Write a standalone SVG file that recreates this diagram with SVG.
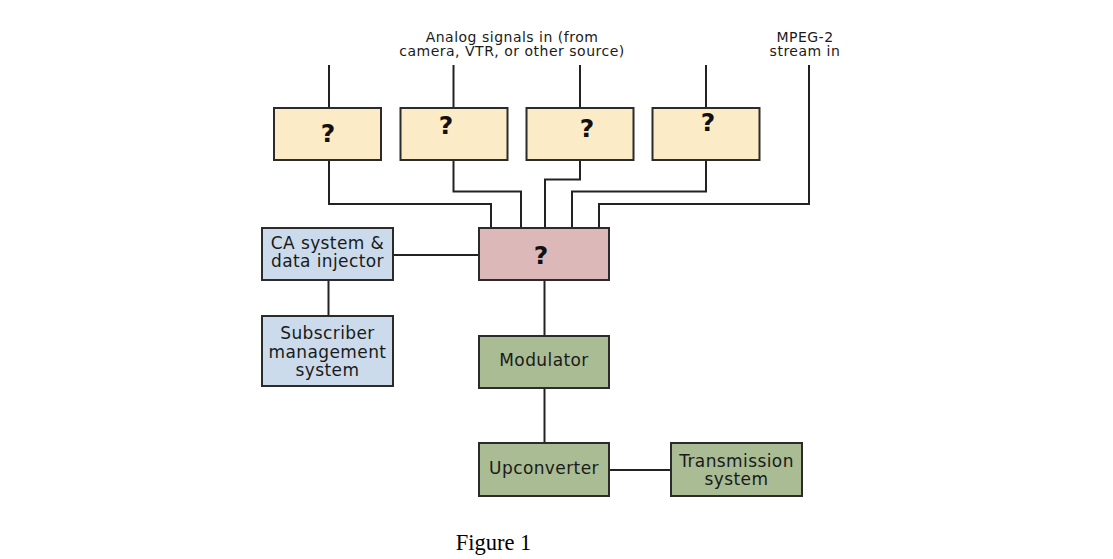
<svg xmlns="http://www.w3.org/2000/svg" width="1113" height="559" viewBox="0 0 1113 559">
<style>
.box{stroke:#2b2b2b;stroke-width:2}
.yel{fill:#FBEBC6}
.pink{fill:#DDB8B8}
.blue{fill:#CBDBEB}
.green{fill:#A9BC93}
.lbl{font-family:"DejaVu Sans",Verdana,sans-serif;font-size:17px;fill:#1a1a1a;text-anchor:middle;letter-spacing:0.4px}
.q{font-family:"DejaVu Sans",Verdana,sans-serif;font-size:25px;font-weight:bold;fill:#111;text-anchor:middle}
.top{font-family:"DejaVu Sans",Verdana,sans-serif;font-size:14px;fill:#1a1a1a;text-anchor:middle;letter-spacing:0.5px}
.fig{font-family:"Liberation Serif","Times New Roman",serif;font-size:22.5px;fill:#000;text-anchor:middle}
.conn{fill:none;stroke:#222;stroke-width:2}
</style>
<rect width="1113" height="559" fill="#fff"/>
<g id="connectors" class="conn">
<path d="M329,65 V108"/>
<path d="M453.5,65 V108"/>
<path d="M580,65 V108"/>
<path d="M706,65 V108"/>
<path d="M329,160 V204 H491 V228"/>
<path d="M453.5,160 V191.5 H521 V228"/>
<path d="M580,160 V179.5 H545 V228"/>
<path d="M706,160 V191.5 H572 V228"/>
<path d="M809,65 V204 H599 V228"/>
<path d="M393,255 H479"/>
<path d="M328.5,280 V316"/>
<path d="M544.5,280 V336"/>
<path d="M544.5,388 V443"/>
<path d="M609,470 H671"/>
</g>
<g id="label-analog">
<text class="top" x="512" y="42">Analog signals in (from</text>
<text class="top" x="512" y="56">camera, VTR, or other source)</text>
</g>
<g id="label-mpeg">
<text class="top" x="805" y="42">MPEG-2</text>
<text class="top" x="805" y="56">stream in</text>
</g>
<g id="enc1"><rect class="box yel" x="274" y="108" width="107" height="52"/><text class="q" x="328" y="141.5">?</text></g>
<g id="enc2"><rect class="box yel" x="400.5" y="108" width="107" height="52"/><text class="q" x="446" y="134">?</text></g>
<g id="enc3"><rect class="box yel" x="526.5" y="108" width="107" height="52"/><text class="q" x="587" y="137">?</text></g>
<g id="enc4"><rect class="box yel" x="652.5" y="108" width="107" height="52"/><text class="q" x="708" y="131">?</text></g>
<g id="mux"><rect class="box pink" x="479" y="228" width="130" height="52"/><text class="q" x="541" y="264">?</text></g>
<g id="ca"><rect class="box blue" x="262" y="228" width="131" height="52"/><text class="lbl" x="327.5" y="249">CA system &amp;</text><text class="lbl" x="327.5" y="267">data injector</text></g>
<g id="sms"><rect class="box blue" x="262" y="316" width="131" height="70"/><text class="lbl" x="327.5" y="339">Subscriber</text><text class="lbl" x="327.5" y="357.5">management</text><text class="lbl" x="327.5" y="375.5">system</text></g>
<g id="modulator"><rect class="box green" x="479" y="336" width="130" height="52"/><text class="lbl" x="544" y="366">Modulator</text></g>
<g id="upconverter"><rect class="box green" x="479" y="443" width="130" height="53"/><text class="lbl" x="544" y="474">Upconverter</text></g>
<g id="transmission"><rect class="box green" x="671" y="443" width="131" height="53"/><text class="lbl" x="736.5" y="467">Transmission</text><text class="lbl" x="736.5" y="485">system</text></g>
<g id="caption"><text class="fig" x="493.5" y="550">Figure 1</text></g>
</svg>
